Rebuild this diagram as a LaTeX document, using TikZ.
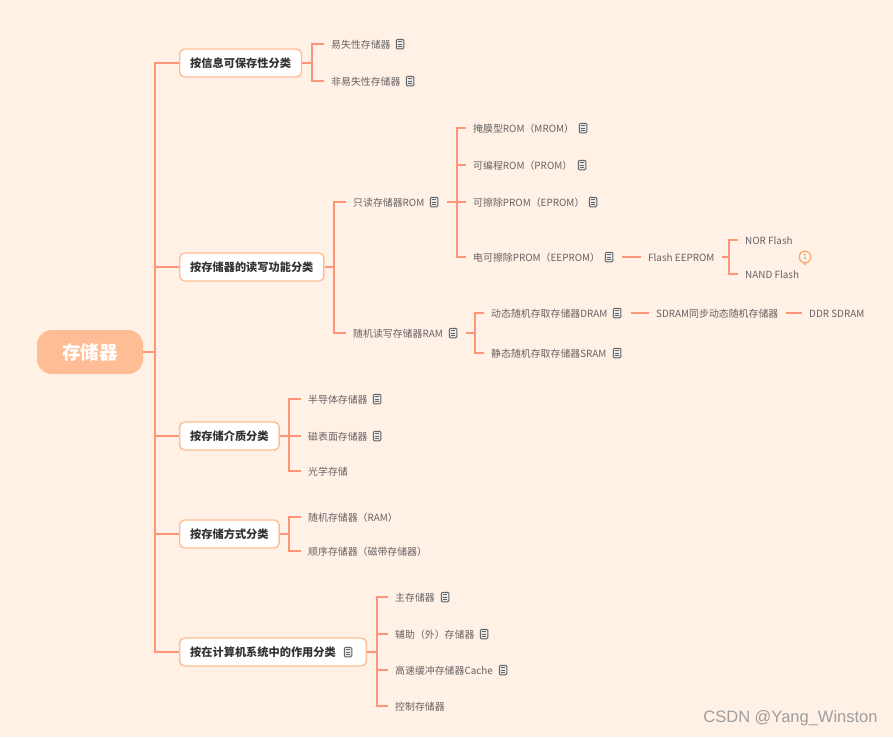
\documentclass[tikz,border=0pt]{standalone}
\usepackage{fontspec}
\usepackage{xcolor}
\setmainfont{Noto Sans CJK SC}
\newfontfamily\markfont{Liberation Sans}
\usetikzlibrary{positioning, calc}
\definecolor{paper}{HTML}{FFF1E6}
\definecolor{branchline}{HTML}{FF9477}
\definecolor{boxline}{HTML}{FFBD95}
\definecolor{leafgray}{HTML}{666262}
\definecolor{notegray}{HTML}{666666}
\definecolor{bubbleline}{HTML}{FFA866}

\begin{document}
\begin{tikzpicture}[x=1pt, y=-1pt,
    branch/.style={draw=branchline, line width=1.4pt},
    rootbox/.style={fill=boxline, rounded corners=15pt, minimum width=106pt, minimum height=44pt, text=white, font=\fontsize{18.5}{22}\selectfont\bfseries},
    catbox/.style={draw=boxline, fill=white, line width=1.4pt, rounded corners=5pt, anchor=west, inner xsep=10.5pt, inner ysep=0pt, minimum height=28pt, text=black!80, font=\fontsize{11.2}{13}\selectfont\bfseries},
    leaf/.style={anchor=west, inner xsep=7pt, inner ysep=0pt, text height=9.4pt, text depth=0.6pt, text=leafgray, font=\fontsize{9.9}{12}\selectfont},
    noteicon/.style={draw=notegray, fill=notegray!15, line width=1pt, rounded corners=1.2pt, inner sep=0pt, minimum width=7.5pt, minimum height=9.5pt,
      path picture={
        \draw[notegray, line width=0.9pt] ($(path picture bounding box.center)+(-2.4,-2.2)$) -- ++(4.8,0);
        \draw[notegray, line width=0.9pt] ($(path picture bounding box.center)+(-2.4,0)$) -- ++(4.8,0);
        \draw[notegray, line width=0.9pt] ($(path picture bounding box.center)+(-2.4,2.2)$) -- ++(4.8,0);
      }},
  ]
  \fill[paper] (0,0) rectangle (893,737);
  \useasboundingbox (0,0) rectangle (893,737);

  % 中心主题
  \node[rootbox] (memory) at (90,352) {存储器};
  \coordinate (maintrunk) at (155,352);
  \draw[branch, line width=2pt] (memory.east) -- (maintrunk);

  % 一级分类
  \node[catbox] (byinfo) at (179,63) {按信息可保存性分类};
  \node[catbox] (byrw) at (179,267) {按存储器的读写功能分类};
  \node[catbox] (bymedia) at (179,436) {按存储介质分类};
  \node[catbox] (byaccess) at (179,534) {按存储方式分类};
  \node[catbox] (byrole) at (179,652) {按在计算机系统中的作用分类\hspace*{20pt}};
  \node[noteicon] (byrolenote) at (348,652) {};
  \draw[branch] (maintrunk) |- (byinfo.west);
  \draw[branch] (maintrunk) |- (byrw.west);
  \draw[branch] (maintrunk) |- (bymedia.west);
  \draw[branch] (maintrunk) |- (byaccess.west);
  \draw[branch] (maintrunk) |- (byrole.west);

  % 按信息可保存性
  \coordinate (infotrunk) at (312,63);
  \node[leaf] (volatile) at (324,44) {易失性存储器};
  \node[noteicon] (volatilenote) at (400,44) {};
  \node[leaf] (nonvolatile) at (324,81) {非易失性存储器};
  \node[noteicon] (nonvolatilenote) at (410,81) {};
  \draw[branch] (byinfo.east) -- (infotrunk);
  \draw[branch] (infotrunk) |- (volatile.west);
  \draw[branch] (infotrunk) |- (nonvolatile.west);

  % 按读写功能
  \coordinate (rwtrunk) at (334,267);
  \node[leaf] (rom) at (346,202) {只读存储器ROM};
  \node[noteicon] (romnote) at (434,202) {};
  \node[leaf] (ram) at (346,333) {随机读写存储器RAM};
  \node[noteicon] (ramnote) at (453,333) {};
  \draw[branch] (byrw.east) -- (rwtrunk);
  \draw[branch] (rwtrunk) |- (rom.west);
  \draw[branch] (rwtrunk) |- (ram.west);

  % ROM
  \coordinate (romtrunk) at (457,202);
  \node[leaf] (mrom) at (466,128) {掩膜型ROM（MROM）};
  \node[noteicon] (mromnote) at (583,128) {};
  \node[leaf] (prom) at (466,165) {可编程ROM（PROM）};
  \node[noteicon] (promnote) at (582,165) {};
  \node[leaf] (eprom) at (466,202) {可擦除PROM（EPROM）};
  \node[noteicon] (epromnote) at (593,202) {};
  \node[leaf] (eeprom) at (466,257) {电可擦除PROM（EEPROM）};
  \node[noteicon] (eepromnote) at (609,257) {};
  \draw[branch] ([xshift=9pt]romnote.east) -- (romtrunk);
  \draw[branch] (romtrunk) |- (mrom.west);
  \draw[branch] (romtrunk) |- (prom.west);
  \draw[branch] (romtrunk) -- (eprom.west);
  \draw[branch] (romtrunk) |- (eeprom.west);

  % Flash
  \node[leaf] (flash) at (641,257) {Flash EEPROM};
  \coordinate (flashtrunk) at (729,257);
  \node[leaf] (norflash) at (738,240) {NOR Flash};
  \node[leaf] (nandflash) at (738,274) {NAND Flash};
  \draw[branch] ([xshift=9pt]eepromnote.east) -- (flash.west);
  \draw[branch] (flash.east) -- (flashtrunk);
  \draw[branch] (flashtrunk) |- (norflash.west);
  \draw[branch] (flashtrunk) |- (nandflash.west);
  \node[circle, draw=bubbleline, line width=1.3pt, fill=white!50!paper, inner sep=0pt, minimum size=11.5pt, text=bubbleline!85!black, font=\fontsize{7.5}{8}\selectfont] (flashbubble) at (805,257) {1};
  \fill[bubbleline] ([xshift=-2pt]flashbubble.south) -- ([yshift=-2pt]flashbubble.south) -- ([xshift=1.5pt]flashbubble.south) -- cycle;

  % RAM
  \coordinate (ramtrunk) at (475,333);
  \node[leaf] (dram) at (484,313) {动态随机存取存储器DRAM};
  \node[noteicon] (dramnote) at (617,313) {};
  \node[leaf] (sram) at (484,353) {静态随机存取存储器SRAM};
  \node[noteicon] (sramnote) at (617,353) {};
  \node[leaf] (sdram) at (649,313) {SDRAM同步动态随机存储器};
  \node[leaf] (ddr) at (802,313) {DDR SDRAM};
  \draw[branch] ([xshift=9pt]ramnote.east) -- (ramtrunk);
  \draw[branch] (ramtrunk) |- (dram.west);
  \draw[branch] (ramtrunk) |- (sram.west);
  \draw[branch] ([xshift=10pt]dramnote.east) -- (sdram.west);
  \draw[branch] (sdram.east) -- (ddr.west);

  % 按存储介质
  \coordinate (mediatrunk) at (289,436);
  \node[leaf] (semiconductor) at (301,399) {半导体存储器};
  \node[noteicon] (semiconductornote) at (377,399) {};
  \node[leaf] (magnetic) at (301,436) {磁表面存储器};
  \node[noteicon] (magneticnote) at (377,436) {};
  \node[leaf] (optical) at (301,471) {光学存储};
  \draw[branch] (bymedia.east) -- (magnetic.west);
  \draw[branch] (mediatrunk) |- (semiconductor.west);
  \draw[branch] (mediatrunk) |- (optical.west);

  % 按存储方式
  \coordinate (accesstrunk) at (289,534);
  \node[leaf] (randomaccess) at (301,517) {随机存储器（RAM）};
  \node[leaf] (sequential) at (301,551) {顺序存储器（磁带存储器）};
  \draw[branch] (byaccess.east) -- (accesstrunk);
  \draw[branch] (accesstrunk) |- (randomaccess.west);
  \draw[branch] (accesstrunk) |- (sequential.west);

  % 按作用
  \coordinate (roletrunk) at (377,652);
  \node[leaf] (mainmem) at (388,597) {主存储器};
  \node[noteicon] (mainmemnote) at (445,597) {};
  \node[leaf] (auxmem) at (388,634) {辅助（外）存储器};
  \node[noteicon] (auxmemnote) at (484,634) {};
  \node[leaf] (cache) at (388,670) {高速缓冲存储器Cache};
  \node[noteicon] (cachenote) at (503,670) {};
  \node[leaf] (control) at (388,706) {控制存储器};
  \draw[branch] (byrole.east) -- (roletrunk);
  \draw[branch] (roletrunk) |- (mainmem.west);
  \draw[branch] (roletrunk) |- (auxmem.west);
  \draw[branch] (roletrunk) |- (cache.west);
  \draw[branch] (roletrunk) |- (control.west);

  % 水印
  \node[text=black!38, font=\markfont\fontsize{16.5}{20}\selectfont] (watermark) at (790.5,718) {CSDN @Yang\_Winston};
\end{tikzpicture}
\end{document}
